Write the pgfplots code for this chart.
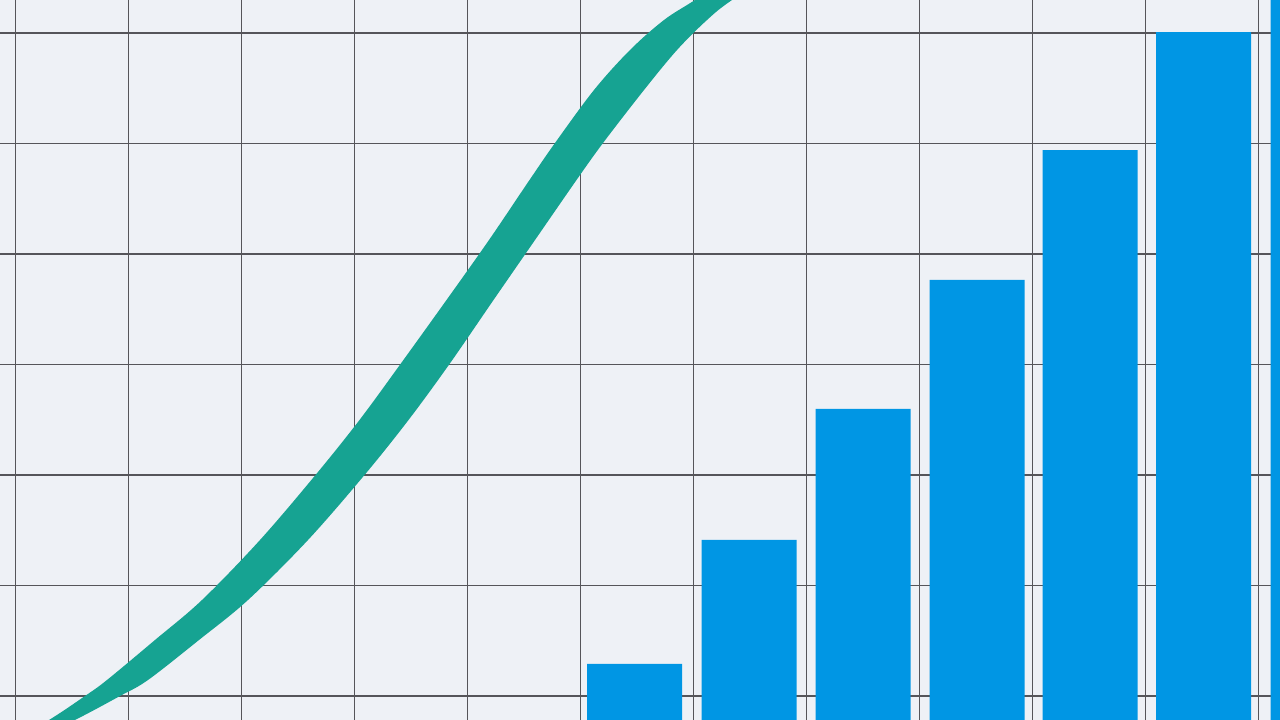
\documentclass[border=0pt]{standalone}
\usepackage{pgfplots}
\pgfplotsset{compat=1.18}
\definecolor{bgc}{RGB}{238,241,246}
\definecolor{gridc}{RGB}{85,85,90}
\definecolor{tealc}{RGB}{22,163,146}
\definecolor{barc}{RGB}{0,150,228}
\begin{document}
\begin{tikzpicture}
\begin{axis}[
  name=ax,
  scale only axis,
  width=12.8cm, height=7.2cm,
  xmin=0, xmax=1280, ymin=0, ymax=720,
  axis line style={draw=none},
  tick style={draw=none},
  xtick={15.5,128.5,241.5,354.5,467.5,580.5,693.5,806.5,919.5,1032.5,1145.5,1258.5},
  ytick={24,134.5,245,355.5,466,576.5,687},
  xticklabels={}, yticklabels={},
  grid=major,
  major grid style={draw=gridc, line width=0.42pt},
  axis background/.style={fill=bgc},
  clip=true,
]
\addplot[ybar, bar width=95, fill=barc, draw=none, bar shift=0pt] coordinates {
  (634.5,56) (749,180) (863,311) (977,440) (1090,570) (1203.5,688) (1318,900)
};
% S-shaped band: left/upper edge bottom to top, then right/lower edge top to bottom
\addplot[fill=tealc, draw=none, smooth, tension=0.55] coordinates {
  (-3,-30) (49,0) (85,24) (107,40) (155,80) (202,120) (260,180) (315.5,245)
  (359.5,300) (400.5,356) (446.5,420) (489,480) (529.5,540) (555,577) (594,630)
  (630,670) (664,700) (695,720) (757,760)
  (794,760) (732,720) (707,700) (677,670) (644,630) (603,577) (576.5,540)
  (535,480) (493.5,420) (449.5,356) (408.5,300) (364.5,245) (308,180) (248,120)
  (199,80) (148,40) (120,24) (75,0) (13,-30)
};
\end{axis}
\pgfresetboundingbox
\path (ax.south west) rectangle (ax.north east);
\end{tikzpicture}
\end{document}
